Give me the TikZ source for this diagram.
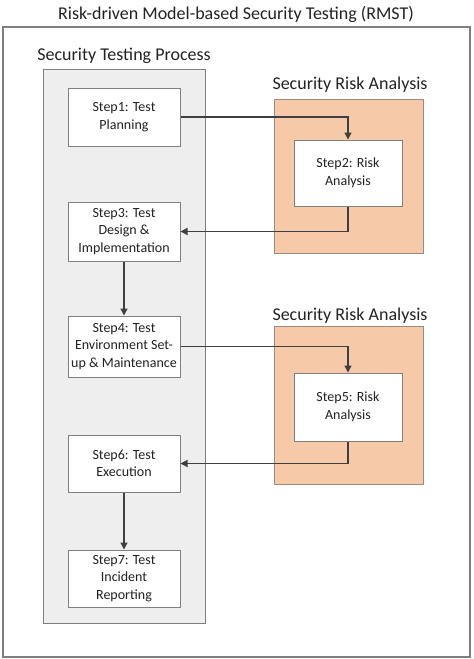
\documentclass[tikz,border=0pt]{standalone}
\usepackage{fontspec}
\setmainfont{Carlito}
\usetikzlibrary{arrows.meta}
\definecolor{txt}{HTML}{222222}
\definecolor{lin}{HTML}{3F3F3F}
\definecolor{frame}{HTML}{7F7F7F}
\definecolor{grayfill}{HTML}{EEEEEE}
\definecolor{orfill}{HTML}{F6C9A9}
\definecolor{orline}{HTML}{9A8A80}
\tikzset{
  stepbox/.style={draw=frame, line width=1pt, fill=white, align=center, text=txt,
    font=\fontsize{14}{17.5}\selectfont, inner sep=0pt},
  groupbox/.style={draw=frame, line width=1.2pt, inner sep=0pt},
  grouplabel/.style={anchor=south, text=txt, font=\fontsize{18}{20}\selectfont, inner sep=0pt},
  conn/.style={draw=lin, line width=1.3pt, -{Triangle[length=7pt,width=7pt]}},
}
\begin{document}
\begin{tikzpicture}[x=1pt,y=-1pt]
\useasboundingbox (0,0) rectangle (474,659);
% title
\node[text=txt, font=\fontsize{18}{20}\selectfont, inner sep=0pt] (title) at (236,14) {Risk-driven Model-based Security Testing (RMST)};
% outer frame
\node[groupbox, minimum width=467pt, minimum height=630pt] (outer) at (236.5,342) {};
% testing process box
\node[groupbox, fill=grayfill, line width=1pt, minimum width=162pt, minimum height=554pt] (proc) at (124,346) {};
\node[grouplabel] (proclbl) at (124,64) {Security Testing Process};
% risk analysis boxes
\node[groupbox, draw=orline, line width=1pt, fill=orfill, minimum width=149pt, minimum height=154pt] (ra1) at (348.5,176) {};
\node[grouplabel] (ra1lbl) at (350,93) {Security Risk Analysis};
\node[groupbox, draw=orline, line width=1pt, fill=orfill, minimum width=149pt, minimum height=158pt] (ra2) at (348.5,405) {};
\node[grouplabel] (ra2lbl) at (350,324) {Security Risk Analysis};
% steps
\node[stepbox, minimum width=112pt, minimum height=58pt] (s1) at (124,117) {Step1: Test\\Planning};
\node[stepbox, minimum width=112pt, minimum height=59pt] (s3) at (124,231.5) {Step3: Test\\Design \&\\Implementation};
\node[stepbox, minimum width=112pt, minimum height=61pt] (s4) at (124,346.5) {Step4: Test\\Environment Set-\\up \& Maintenance};
\node[stepbox, minimum width=112pt, minimum height=57pt] (s6) at (124,463.5) {Step6: Test\\Execution};
\node[stepbox, minimum width=112pt, minimum height=57pt] (s7) at (124,578.5) {Step7: Test\\Incident\\Reporting};
\node[stepbox, minimum width=108pt, minimum height=66pt] (s2) at (348,173) {Step2: Risk\\Analysis};
\node[stepbox, minimum width=108pt, minimum height=68pt] (s5) at (348,407) {Step5: Risk\\Analysis};
% connectors
\draw[conn] (s1.east) -| (s2.north);
\draw[conn] (s2.south) |- (s3.east);
\draw[conn] (s3.south) -- (s4.north);
\draw[conn] (s4.east) -| (s5.north);
\draw[conn] (s5.south) |- (s6.east);
\draw[conn] (s6.south) -- (s7.north);
\end{tikzpicture}
\end{document}
